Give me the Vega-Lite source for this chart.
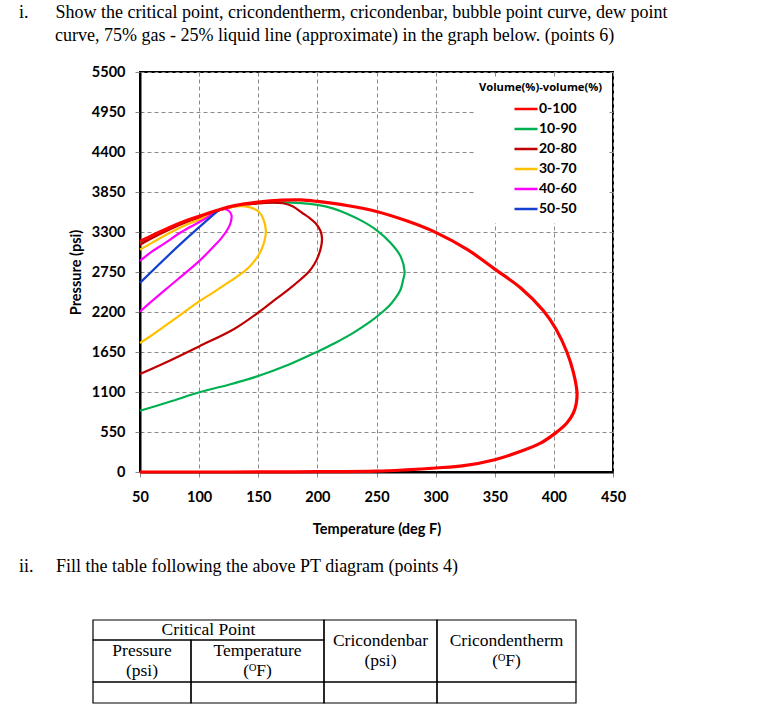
{
  "$schema": "https://vega.github.io/schema/vega-lite/v6.json",
  "background": "white",
  "padding": {"left": 18, "top": 3, "right": 5, "bottom": 5},
  "spacing": 21,
  "resolve": {"legend": {"color": "independent"}, "scale": {"color": "independent"}},
  "config": {
    "font": "Lato",
    "axis": {
      "grid": true,
      "gridDash": [4, 3],
      "gridColor": "#8a8a8a",
      "gridWidth": 1,
      "gridOpacity": 1,
      "domainColor": "black",
      "domainWidth": 2,
      "tickColor": "#8a8a8a",
      "tickSize": 5,
      "labelFont": "Lato",
      "labelFontWeight": "bold",
      "labelFontSize": 14.5,
      "labelColor": "black",
      "labelPadding": 10,
      "labelFlush": false,
      "labelOverlap": false,
      "titleFont": "Lato",
      "titleFontWeight": "bold",
      "titleFontSize": 14.5,
      "titleColor": "black"
    }
  },
  "vconcat": [
    {
      "width": 473,
      "height": 400,
      "view": {"stroke": "black", "strokeWidth": 2},
      "title": {
        "text": [
          "i.\u00a0\u00a0\u00a0\u00a0\u00a0\u00a0Show the critical point, cricondentherm, cricondenbar, bubble point curve, dew point",
          "\u200b\u00a0\u00a0\u00a0\u00a0\u00a0\u00a0\u00a0\u00a0curve, 75% gas - 25% liquid line (approximate) in the graph below. (points 6)"
        ],
        "anchor": "start",
        "frame": "group",
        "dx": -121,
        "font": "Liberation Serif",
        "fontSize": 18,
        "fontWeight": "normal",
        "lineHeight": 23,
        "offset": 19,
        "color": "black"
      },
      "data": {
        "values": [
          {"s": "0-100", "T": 50, "P": 3171}, {"s": "0-100", "T": 60, "P": 3250}, {"s": "0-100", "T": 75, "P": 3362}, {"s": "0-100", "T": 90, "P": 3460}, {"s": "0-100", "T": 100, "P": 3515}, {"s": "0-100", "T": 110, "P": 3570}, {"s": "0-100", "T": 117, "P": 3607}, {"s": "0-100", "T": 130, "P": 3662}, {"s": "0-100", "T": 150, "P": 3712}, {"s": "0-100", "T": 170, "P": 3738}, {"s": "0-100", "T": 186, "P": 3741}, {"s": "0-100", "T": 200, "P": 3720}, {"s": "0-100", "T": 225, "P": 3664}, {"s": "0-100", "T": 250, "P": 3582}, {"s": "0-100", "T": 276, "P": 3450}, {"s": "0-100", "T": 300, "P": 3295}, {"s": "0-100", "T": 327, "P": 3057}, {"s": "0-100", "T": 350, "P": 2790}, {"s": "0-100", "T": 372, "P": 2530}, {"s": "0-100", "T": 391, "P": 2220}, {"s": "0-100", "T": 402, "P": 1960}, {"s": "0-100", "T": 411, "P": 1650}, {"s": "0-100", "T": 416.5, "P": 1370}, {"s": "0-100", "T": 419.5, "P": 1100}, {"s": "0-100", "T": 419, "P": 950}, {"s": "0-100", "T": 416.5, "P": 811}, {"s": "0-100", "T": 411, "P": 674}, {"s": "0-100", "T": 401, "P": 531}, {"s": "0-100", "T": 389, "P": 400}, {"s": "0-100", "T": 372, "P": 284}, {"s": "0-100", "T": 350, "P": 169}, {"s": "0-100", "T": 324, "P": 87}, {"s": "0-100", "T": 300, "P": 55}, {"s": "0-100", "T": 275, "P": 30}, {"s": "0-100", "T": 250, "P": 12}, {"s": "0-100", "T": 200, "P": 4}, {"s": "0-100", "T": 150, "P": 1}, {"s": "0-100", "T": 100, "P": 0}, {"s": "0-100", "T": 50, "P": 0},
          {"s": "10-90", "T": 50, "P": 3149}, {"s": "10-90", "T": 60, "P": 3235}, {"s": "10-90", "T": 75, "P": 3348}, {"s": "10-90", "T": 90, "P": 3448}, {"s": "10-90", "T": 100, "P": 3505}, {"s": "10-90", "T": 110, "P": 3562}, {"s": "10-90", "T": 117, "P": 3600}, {"s": "10-90", "T": 130, "P": 3655}, {"s": "10-90", "T": 150, "P": 3697}, {"s": "10-90", "T": 170, "P": 3707}, {"s": "10-90", "T": 186, "P": 3698}, {"s": "10-90", "T": 200, "P": 3673}, {"s": "10-90", "T": 213, "P": 3625}, {"s": "10-90", "T": 225, "P": 3552}, {"s": "10-90", "T": 238, "P": 3450}, {"s": "10-90", "T": 250, "P": 3327}, {"s": "10-90", "T": 262, "P": 3149}, {"s": "10-90", "T": 270.4, "P": 2965}, {"s": "10-90", "T": 273.8, "P": 2750}, {"s": "10-90", "T": 272.5, "P": 2640}, {"s": "10-90", "T": 270.4, "P": 2510}, {"s": "10-90", "T": 266, "P": 2390}, {"s": "10-90", "T": 261, "P": 2290}, {"s": "10-90", "T": 255, "P": 2200}, {"s": "10-90", "T": 245, "P": 2070}, {"s": "10-90", "T": 230, "P": 1910}, {"s": "10-90", "T": 215, "P": 1775}, {"s": "10-90", "T": 200, "P": 1655}, {"s": "10-90", "T": 175, "P": 1470}, {"s": "10-90", "T": 150, "P": 1320}, {"s": "10-90", "T": 125, "P": 1200}, {"s": "10-90", "T": 101, "P": 1100}, {"s": "10-90", "T": 75, "P": 965}, {"s": "10-90", "T": 50, "P": 843},
          {"s": "20-80", "T": 50, "P": 3125}, {"s": "20-80", "T": 60, "P": 3215}, {"s": "20-80", "T": 75, "P": 3335}, {"s": "20-80", "T": 90, "P": 3440}, {"s": "20-80", "T": 100, "P": 3497}, {"s": "20-80", "T": 110, "P": 3555}, {"s": "20-80", "T": 117, "P": 3600}, {"s": "20-80", "T": 135, "P": 3665}, {"s": "20-80", "T": 150, "P": 3693}, {"s": "20-80", "T": 162, "P": 3703}, {"s": "20-80", "T": 171, "P": 3695}, {"s": "20-80", "T": 179, "P": 3655}, {"s": "20-80", "T": 187, "P": 3565}, {"s": "20-80", "T": 193, "P": 3497}, {"s": "20-80", "T": 198.3, "P": 3424}, {"s": "20-80", "T": 202.5, "P": 3320}, {"s": "20-80", "T": 203.9, "P": 3217}, {"s": "20-80", "T": 203.2, "P": 3100}, {"s": "20-80", "T": 201, "P": 2980}, {"s": "20-80", "T": 197.5, "P": 2860}, {"s": "20-80", "T": 192.6, "P": 2750}, {"s": "20-80", "T": 186, "P": 2650}, {"s": "20-80", "T": 176, "P": 2515}, {"s": "20-80", "T": 165, "P": 2380}, {"s": "20-80", "T": 150.7, "P": 2200}, {"s": "20-80", "T": 130, "P": 1970}, {"s": "20-80", "T": 100, "P": 1727}, {"s": "20-80", "T": 75, "P": 1530}, {"s": "20-80", "T": 50, "P": 1347},
          {"s": "30-70", "T": 50, "P": 3056}, {"s": "30-70", "T": 60, "P": 3150}, {"s": "30-70", "T": 75, "P": 3285}, {"s": "30-70", "T": 90, "P": 3405}, {"s": "30-70", "T": 100, "P": 3470}, {"s": "30-70", "T": 110, "P": 3550}, {"s": "30-70", "T": 117, "P": 3600}, {"s": "30-70", "T": 127, "P": 3640}, {"s": "30-70", "T": 135, "P": 3655}, {"s": "30-70", "T": 143, "P": 3638}, {"s": "30-70", "T": 150, "P": 3585}, {"s": "30-70", "T": 154, "P": 3490}, {"s": "30-70", "T": 156.4, "P": 3330}, {"s": "30-70", "T": 155.6, "P": 3200}, {"s": "30-70", "T": 153, "P": 3070}, {"s": "30-70", "T": 149, "P": 2950}, {"s": "30-70", "T": 143, "P": 2830}, {"s": "30-70", "T": 135, "P": 2720}, {"s": "30-70", "T": 126, "P": 2620}, {"s": "30-70", "T": 113, "P": 2480}, {"s": "30-70", "T": 100, "P": 2346}, {"s": "30-70", "T": 85, "P": 2170}, {"s": "30-70", "T": 70.5, "P": 2002}, {"s": "30-70", "T": 60, "P": 1880}, {"s": "30-70", "T": 50, "P": 1774},
          {"s": "40-60", "T": 50, "P": 2904}, {"s": "40-60", "T": 60, "P": 3030}, {"s": "40-60", "T": 70.5, "P": 3140}, {"s": "40-60", "T": 85, "P": 3300}, {"s": "40-60", "T": 98.7, "P": 3424}, {"s": "40-60", "T": 108, "P": 3510}, {"s": "40-60", "T": 117, "P": 3600}, {"s": "40-60", "T": 121, "P": 3617}, {"s": "40-60", "T": 125, "P": 3592}, {"s": "40-60", "T": 127.4, "P": 3530}, {"s": "40-60", "T": 126.5, "P": 3420}, {"s": "40-60", "T": 123.5, "P": 3320}, {"s": "40-60", "T": 119, "P": 3220}, {"s": "40-60", "T": 113.5, "P": 3120}, {"s": "40-60", "T": 107, "P": 3010}, {"s": "40-60", "T": 100, "P": 2900}, {"s": "40-60", "T": 92, "P": 2785}, {"s": "40-60", "T": 82, "P": 2650}, {"s": "40-60", "T": 71, "P": 2500}, {"s": "40-60", "T": 60, "P": 2350}, {"s": "40-60", "T": 50, "P": 2205},
          {"s": "50-50", "T": 50, "P": 2600}, {"s": "50-50", "T": 84.6, "P": 3140}, {"s": "50-50", "T": 117, "P": 3607}
        ]
      },
      "encoding": {
        "x": {
          "field": "T", "type": "quantitative",
          "scale": {"domain": [50, 450], "nice": false, "zero": false},
          "axis": {"values": [50, 100, 150, 200, 250, 300, 350, 400, 450], "title": "Temperature (deg F)", "labelPadding": 13, "titlePadding": 19}
        },
        "y": {
          "field": "P", "type": "quantitative",
          "scale": {"domain": [0, 5500], "nice": false},
          "axis": {"values": [0, 550, 1100, 1650, 2200, 2750, 3300, 3850, 4400, 4950, 5500], "format": "d", "title": "Pressure (psi)", "titlePadding": 8}
        },
        "color": {
          "field": "s", "type": "nominal",
          "scale": {"domain": ["0-100", "10-90", "20-80", "30-70", "40-60", "50-50"], "range": ["#FF0000", "#00B050", "#C00000", "#FFC000", "#FF00FF", "#1440D0"]},
          "legend": {
            "title": "Volume(%)-volume(%)", "orient": "top-right", "offset": 6, "padding": 4,
            "fillColor": "white", "titleFont": "Open Sans", "titleFontSize": 11.2, "titleFontWeight": "bold", "titleColor": "black", "titlePadding": 6,
            "labelFont": "Lato", "labelFontSize": 14, "labelFontWeight": "bold", "labelColor": "black",
            "symbolType": "stroke", "symbolSize": 529, "symbolStrokeWidth": 2.5, "symbolOffset": 34, "labelOffset": 0,
            "clipHeight": 19.4, "rowPadding": 0
          }
        },
        "order": {"value": null}
      },
      "layer": [
        {"transform": [{"filter": "datum.s != '0-100'"}], "mark": {"type": "line", "interpolate": "catmull-rom", "strokeWidth": 2.2}},
        {"transform": [{"filter": "datum.s == '0-100'"}], "mark": {"type": "line", "interpolate": "catmull-rom", "strokeWidth": 3.2}}
      ]
    },
    {
      "width": 436,
      "height": 83,
      "view": {"stroke": null},
      "title": {
        "text": "ii.\u00a0\u00a0\u00a0\u00a0\u00a0Fill the table following the above PT diagram (points 4)",
        "anchor": "start", "frame": "group", "dx": -121,
        "font": "Liberation Serif", "fontSize": 18, "fontWeight": "normal", "offset": 43, "color": "black"
      },
      "data": {
        "values": [
          {"label": "Critical Point", "x0": 0, "x1": 231, "y0": 0, "y1": 20},
          {"label": "Pressure\n(psi)", "x0": 0, "x1": 98, "y0": 20, "y1": 62},
          {"label": "Temperature\n(\u1d3cF)", "x0": 98, "x1": 231, "y0": 20, "y1": 62},
          {"label": "Cricondenbar\n(psi)", "x0": 231, "x1": 344, "y0": 0, "y1": 62},
          {"label": "Cricondentherm\n(\u1d3cF)", "x0": 344, "x1": 483, "y0": 0, "y1": 62},
          {"label": "", "x0": 0, "x1": 98, "y0": 62, "y1": 83},
          {"label": "", "x0": 98, "x1": 231, "y0": 62, "y1": 83},
          {"label": "", "x0": 231, "x1": 344, "y0": 62, "y1": 83},
          {"label": "", "x0": 344, "x1": 483, "y0": 62, "y1": 83}
        ]
      },
      "transform": [
        {"calculate": "(datum.x0 + datum.x1) / 2", "as": "cx"},
        {"calculate": "(datum.y0 + datum.y1) / 2 - (indexof(datum.label, '\\n') >= 0 ? 10 : 0)", "as": "cy"}
      ],
      "layer": [
        {
          "mark": {"type": "rect", "filled": false, "color": "black", "strokeWidth": 1.2},
          "encoding": {
            "x": {"field": "x0", "type": "quantitative", "scale": {"domain": [0, 483], "range": [-47, 436]}, "axis": null},
            "x2": {"field": "x1"},
            "y": {"field": "y0", "type": "quantitative", "scale": {"domain": [0, 83], "range": [0, 83]}, "axis": null},
            "y2": {"field": "y1"}
          }
        },
        {
          "mark": {"type": "text", "font": "Liberation Serif", "fontSize": 17.5, "lineBreak": "\n", "lineHeight": 20, "baseline": "middle", "align": "center", "color": "black"},
          "encoding": {
            "x": {"field": "cx", "type": "quantitative", "scale": {"domain": [0, 483], "range": [-47, 436]}, "axis": null},
            "y": {"field": "cy", "type": "quantitative", "scale": {"domain": [0, 83], "range": [0, 83]}, "axis": null},
            "text": {"field": "label"}
          }
        }
      ]
    }
  ]
}
